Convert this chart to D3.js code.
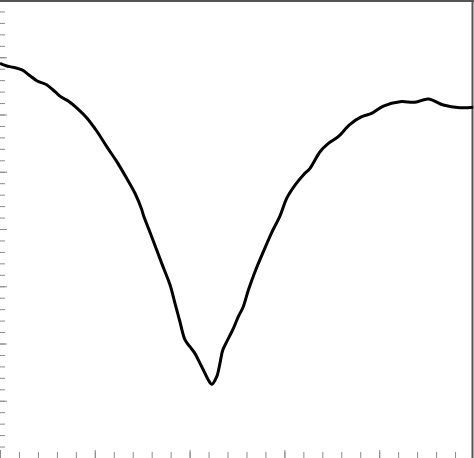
<!DOCTYPE html>
<html>
<head>
<meta charset="utf-8">
<script src="https://cdn.jsdelivr.net/npm/d3@7"></script>
<style>
  html, body { margin: 0; padding: 0; background: #fff; }
  svg { display: block; }
</style>
</head>
<body>
<div id="chart"></div>
<script>
// curve (x in bottom-tick units, y in left-tick units)
const xs = [0, 0.32, 0.70, 1.16, 1.58, 1.94, 2.46, 2.90, 3.25, 3.60, 4.13, 4.57, 5.10, 5.63, 6.16,
    6.68, 7.12, 7.47, 7.56, 8.00, 8.53, 8.97, 9.23, 9.49, 9.76, 10.02, 10.28, 10.55, 10.81, 10.99,
    11.17, 11.43, 11.60, 11.75, 11.96, 12.31, 12.57, 12.83, 13.10, 13.45, 13.89, 14.33, 14.77, 15.12,
    15.56, 16.00, 16.35, 16.88, 17.32, 17.84, 18.46, 19.08, 19.60, 20.22, 21.10, 21.89, 22.59, 23.38,
    24.26, 24.96];
const ys = [34.47, 34.26, 34.12, 33.89, 33.39, 32.95, 32.60, 31.99, 31.50, 31.18, 30.45, 29.72, 28.56,
    27.19, 25.88, 24.43, 23.12, 21.72, 21.22, 19.33, 17.00, 15.11, 13.51, 11.90, 10.31, 9.72, 9.14,
    8.27, 7.40, 6.81, 6.44, 7.10, 8.27, 9.43, 10.16, 11.33, 12.34, 13.21, 14.67, 16.27, 18.02, 19.69,
    21.14, 22.68, 23.84, 24.72, 25.30, 26.75, 27.48, 28.06, 29.14, 29.81, 30.10, 30.74, 31.12, 31.07,
    31.35, 30.83, 30.59, 30.63];
const xMinorTicks = d3.range(0, 26, 1);
const xMajorTicks = d3.range(0, 26, 5);
const yMinorTicks = d3.range(0, 41, 1);
const yMajorTicks = d3.range(0, 41, 5);

const width = 474, height = 458;

const svg = d3.select("#chart").append("svg")
    .attr("width", width)
    .attr("height", height);

const x = d3.scaleLinear().domain([0, 25]).range([0, width]);
const y = d3.scaleLinear().domain([0, 40]).range([height, 0]);

// ticks pointing inward, no axis line
function tickAxis(axis, size, ticks) {
    return axis.tickValues(ticks).tickSizeInner(-size).tickSizeOuter(0).tickFormat("");
}

[[yMinorTicks, 5], [yMajorTicks, 7]].forEach(([t, s]) => {
    svg.append("g")
        .call(tickAxis(d3.axisLeft(y), s, t))
        .call(g => g.select(".domain").remove())
        .call(g => g.selectAll("line").attr("stroke", "#8a8a8a"));
});

[[xMinorTicks, 6], [xMajorTicks, 8]].forEach(([t, s]) => {
    svg.append("g")
        .attr("transform", `translate(0,${height})`)
        .call(tickAxis(d3.axisBottom(x), s, t))
        .call(g => g.select(".domain").remove())
        .call(g => g.selectAll("line").attr("stroke", "#8a8a8a"));
});

// top and right frame
svg.append("line").attr("x1", 0).attr("x2", width).attr("y1", 1).attr("y2", 1)
    .attr("stroke", "#555").attr("stroke-width", 2);
svg.append("line").attr("x1", width - 1.5).attr("x2", width - 1.5).attr("y1", 0).attr("y2", height)
    .attr("stroke", "#555").attr("stroke-width", 2);

const line = d3.line()
    .x((d, i) => x(xs[i]))
    .y(d => y(d))
    .curve(d3.curveCatmullRom);

svg.append("path")
    .datum(ys)
    .attr("fill", "none")
    .attr("stroke", "#000")
    .attr("stroke-width", 3)
    .attr("stroke-linejoin", "round")
    .attr("d", line);
</script>
</body>
</html>
